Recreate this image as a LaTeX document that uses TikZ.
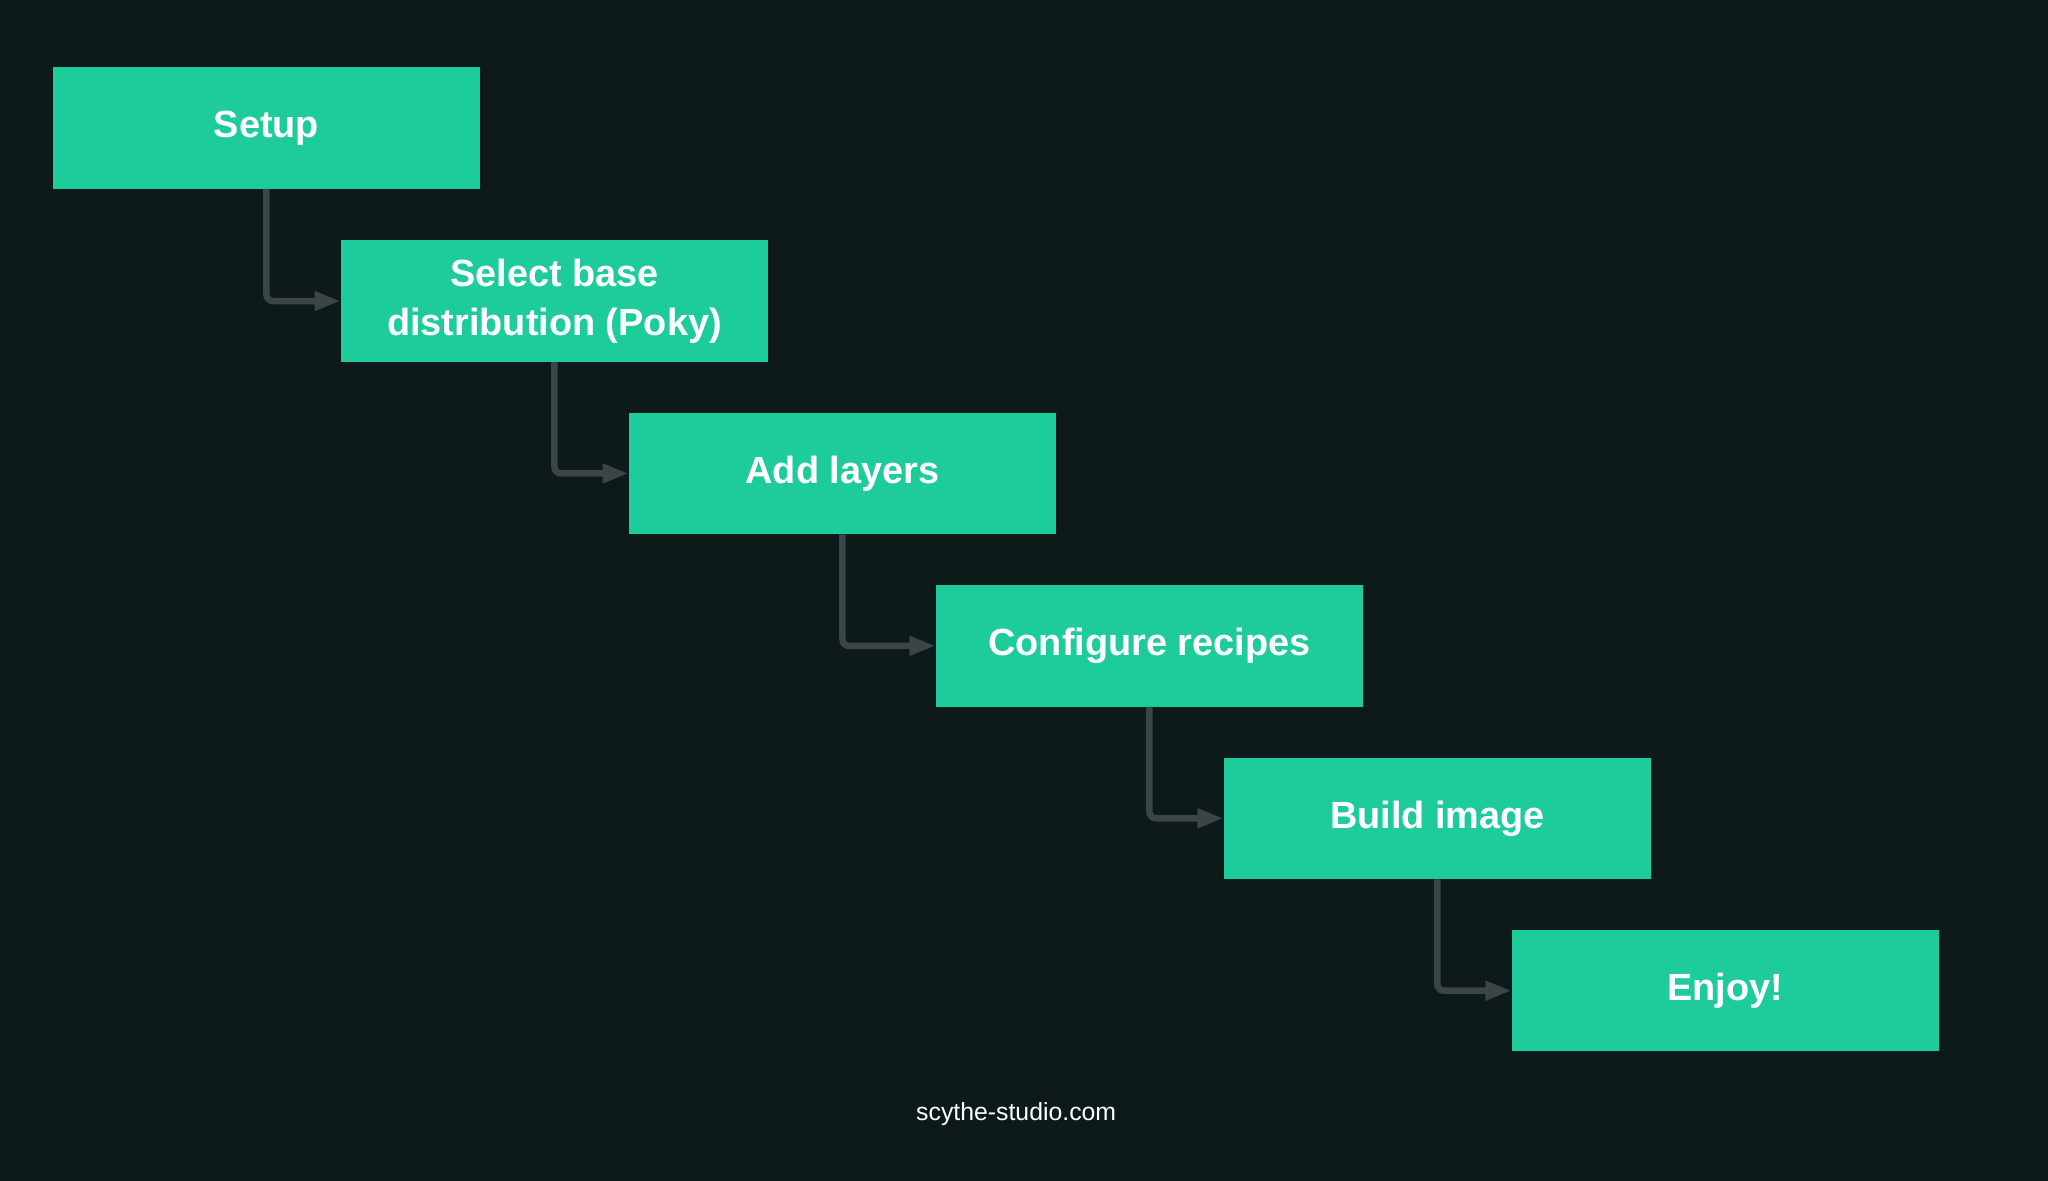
\documentclass[tikz,border=0pt]{standalone}
\usepackage{fontspec}
\setmainfont{Liberation Sans}
\usetikzlibrary{arrows.meta}
\definecolor{bg}{HTML}{0E1919}
\definecolor{gr}{HTML}{1ECB9A}
\definecolor{ln}{HTML}{3A4449}
\begin{document}
\begin{tikzpicture}[x=1pt,y=-1pt,
 stepbox/.style={fill=gr,draw=none,minimum width=327pt,minimum height=93pt,text=white,font=\fontsize{29}{37}\selectfont\bfseries,align=center,inner sep=0pt},
 conn/.style={draw=ln,line width=5pt,rounded corners=5pt,-{Triangle[length=20pt,width=14pt]}}]
\fill[bg] (0,0) rectangle (1568,904);
\node[stepbox] (a) at (204,98) {Setup};
\node[stepbox] (b) at (424.5,230.5) {Select base\\distribution (Poky)};
\node[stepbox] (c) at (645,362.5) {Add layers};
\node[stepbox] (d) at (880,494.5) {Configure recipes};
\node[stepbox] (e) at (1100.5,626.5) {Build image};
\node[stepbox] (f) at (1321,758.5) {Enjoy!};
\node[text=white,font=\fontsize{19}{23}\selectfont] (ft) at (778,853) {scythe-studio.com};
\foreach \s/\t in {a/b,b/c,c/d,d/e,e/f}
 \draw[conn] (\s.south) |- (\t.west);
\end{tikzpicture}
\end{document}
